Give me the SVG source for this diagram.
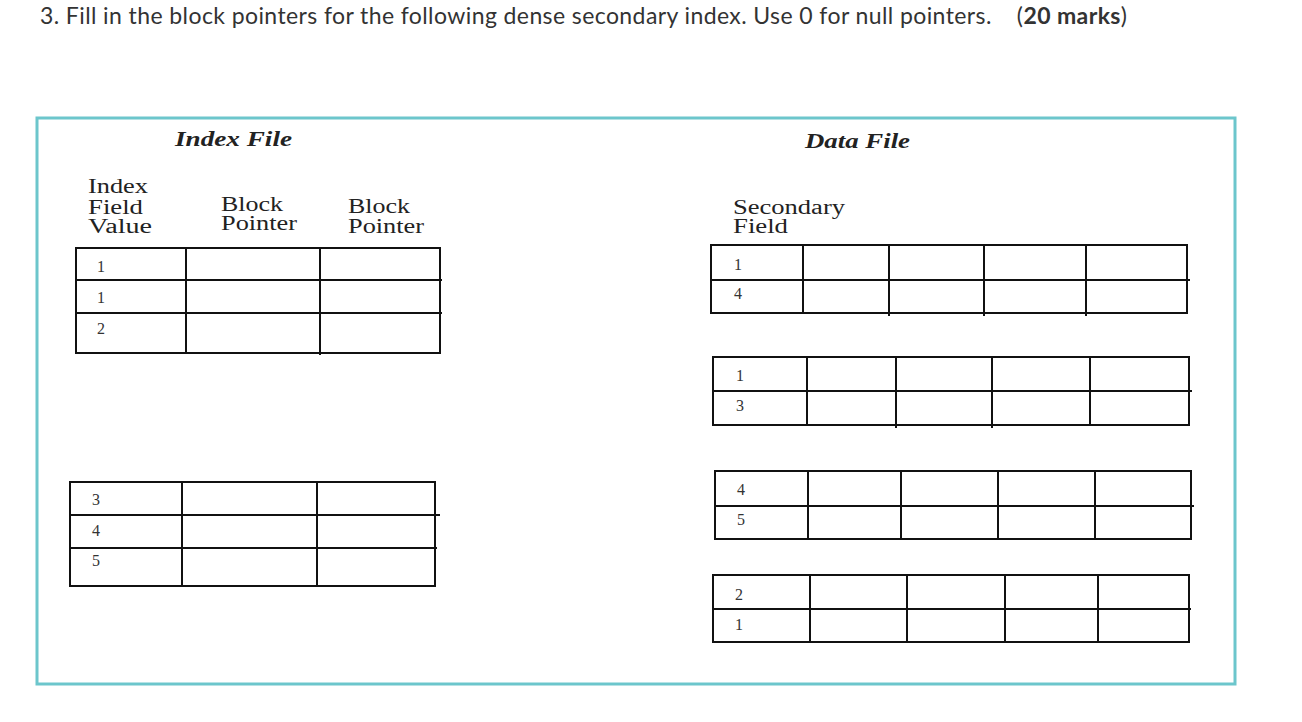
<svg xmlns="http://www.w3.org/2000/svg" width="1302" height="722" viewBox="0 0 1302 722">
<style>
.t{font-family:"Liberation Serif",serif;font-size:20px;fill:#222}
.n{font-family:"Liberation Serif",serif;font-size:16px;fill:#333}
.h{font-family:"Liberation Serif",serif;font-size:20px;font-weight:bold;font-style:italic;fill:#222}
.g{fill:none;stroke:#111;stroke-width:2}
</style>
<rect width="1302" height="722" fill="#fff"/>
<text x="40" y="24" textLength="1087" lengthAdjust="spacing" xml:space="preserve" style="font-family:Lato,sans-serif;font-size:23px;fill:#333">3. Fill in the block pointers for the following dense secondary index. Use 0 for null pointers.    (<tspan font-weight="bold">20 marks</tspan>)</text>
<rect x="37" y="118" width="1198" height="566" fill="none" stroke="#6cc6cc" stroke-width="3"/>
<text class="h" x="175" y="146" textLength="117" lengthAdjust="spacingAndGlyphs">Index File</text>
<text class="h" x="805" y="148" textLength="105" lengthAdjust="spacingAndGlyphs">Data File</text>
<text class="t" x="88" y="193" textLength="60" lengthAdjust="spacingAndGlyphs">Index</text>
<text class="t" x="88" y="214" textLength="55" lengthAdjust="spacingAndGlyphs">Field</text>
<text class="t" x="88" y="233" textLength="64" lengthAdjust="spacingAndGlyphs">Value</text>
<text class="t" x="221" y="211" textLength="62" lengthAdjust="spacingAndGlyphs">Block</text>
<text class="t" x="221" y="230" textLength="76" lengthAdjust="spacingAndGlyphs">Pointer</text>
<text class="t" x="348" y="213" textLength="62" lengthAdjust="spacingAndGlyphs">Block</text>
<text class="t" x="348" y="233" textLength="76" lengthAdjust="spacingAndGlyphs">Pointer</text>
<text class="t" x="733" y="214" textLength="112" lengthAdjust="spacingAndGlyphs">Secondary</text>
<text class="t" x="733" y="233" textLength="55" lengthAdjust="spacingAndGlyphs">Field</text>
<g id="index1">
<rect class="g" x="76" y="248" width="364" height="105"/>
<path class="g" d="M186 248V353M320 248V355M76 280H442M76 313H442"/>
<text class="n" x="97" y="272">1</text><text class="n" x="97" y="303">1</text><text class="n" x="97" y="334">2</text>
</g>
<g id="index2">
<rect class="g" x="70" y="482" width="365" height="104"/>
<path class="g" d="M182 482V586M317 482V586M70 515H440M70 548H437"/>
<text class="n" x="92" y="505">3</text><text class="n" x="92" y="536">4</text><text class="n" x="92" y="566">5</text>
</g>
<g id="block1">
<rect class="g" x="711" y="245" width="476" height="68"/>
<path class="g" d="M803 245V313M889 245V316M984 245V316M1086 245V316M711 280H1190"/>
<text class="n" x="734" y="270">1</text><text class="n" x="734" y="299">4</text>
</g>
<g id="block2">
<rect class="g" x="713" y="357" width="476" height="68"/>
<path class="g" d="M807 357V425M896 357V428M992 357V428M1090 357V425M713 391H1192"/>
<text class="n" x="736" y="381">1</text><text class="n" x="736" y="411">3</text>
</g>
<g id="block3">
<rect class="g" x="715" y="471" width="476" height="68"/>
<path class="g" d="M808 471V539M901 471V539M998 471V539M1095 471V539M715 506H1194"/>
<text class="n" x="737" y="495">4</text><text class="n" x="737" y="525">5</text>
</g>
<g id="block4">
<rect class="g" x="713" y="575" width="476" height="67"/>
<path class="g" d="M810 575V642M907 575V642M1005 575V642M1098 575V642M713 609H1191"/>
<text class="n" x="735" y="600">2</text><text class="n" x="735" y="630">1</text>
</g>
<g id="connectors"/>
</svg>
